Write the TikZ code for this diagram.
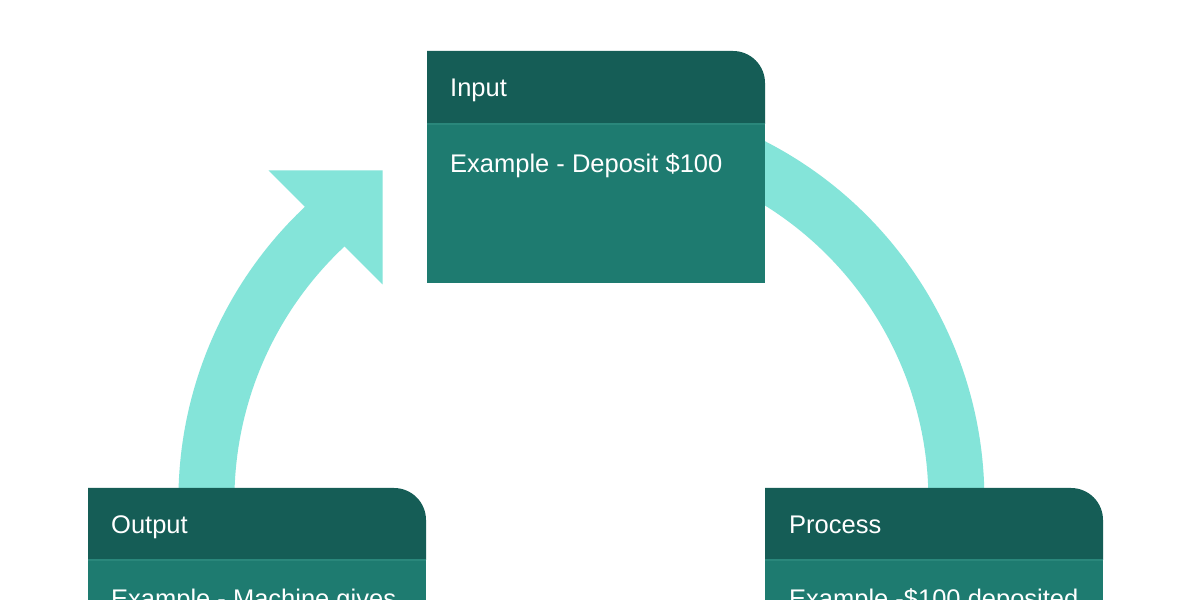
\documentclass[tikz,border=0pt]{standalone}
\usepackage{fontspec}
\setmainfont{Liberation Sans}
\usetikzlibrary{calc}
\definecolor{hdr}{HTML}{155D56}
\definecolor{bdy}{HTML}{1E7B70}
\definecolor{sep}{HTML}{2A877B}
\definecolor{arcc}{HTML}{84E4D9}
\tikzset{
  lbl/.style={anchor=base west, inner sep=0pt, text=white, font=\fontsize{25.5}{30}\selectfont},
  flow/.style={draw=arcc, line width=56pt},
}
\begin{document}
\begin{tikzpicture}[x=1pt,y=1pt]
\useasboundingbox (0,0) rectangle (1200,600);
\clip (0,0) rectangle (1200,600);
\fill[white] (0,0) rectangle (1200,600);
\coordinate (C) at (581.4,100);
% arcs
\draw[flow] ($(C)+(70:375)$) arc[start angle=70, end angle=-5, radius=375];
\draw[flow] ($(C)+(185:375)$) arc[start angle=185, end angle=132.5, radius=375];
\fill[arcc] (268.5,429.5) -- (382.5,429.5) -- (382.5,315.5) -- cycle;
% Input box
\fill[bdy] (427,317) rectangle (765,476);
\fill[hdr] (427,476) -- (427,549) -- (733,549) arc[start angle=90, end angle=0, radius=32] -- (765,476) -- cycle;
\draw[sep, line width=1.2pt] (427,476) -- (765,476);
% Output box
\fill[bdy] (88,-10) rectangle (426,40);
\fill[hdr] (88,40) -- (88,112) -- (394,112) arc[start angle=90, end angle=0, radius=32] -- (426,40) -- cycle;
\draw[sep, line width=1.2pt] (88,40) -- (426,40);
% Process box
\fill[bdy] (765,-10) rectangle (1103,40);
\fill[hdr] (765,40) -- (765,112) -- (1071,112) arc[start angle=90, end angle=0, radius=32] -- (1103,40) -- cycle;
\draw[sep, line width=1.2pt] (765,40) -- (1103,40);
% texts
\node[lbl] (inT) at (450,503) {Input};
\node[lbl] (inB) at (450,427.3) {Example - Deposit \$100};
\node[lbl] (outT) at (111,66.7) {Output};
\node[lbl] (outB) at (111,-7.6) {Example - Machine gives};
\node[lbl] (prT) at (789,66.7) {Process};
\node[lbl] (prB) at (789,-7.6) {Example -\$100 deposited};
\end{tikzpicture}
\end{document}
